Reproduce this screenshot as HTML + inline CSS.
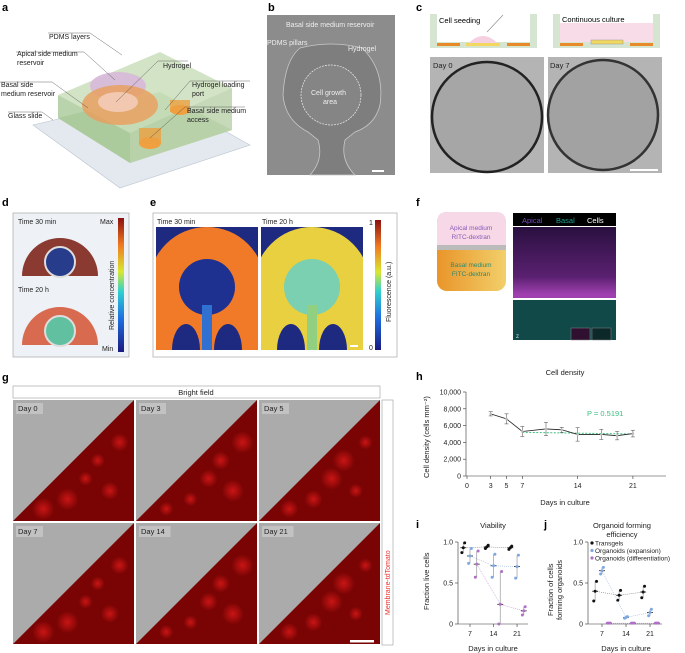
<!DOCTYPE html>
<html><head><meta charset="utf-8"><style>
html,body{margin:0;padding:0;background:#fff;}
svg{display:block;font-family:"Liberation Sans",sans-serif;}
.lbl{font-weight:bold;font-size:11px;}
.t{font-size:7px;fill:#222;}
.tw{font-size:7px;fill:#eee;}
</style></head><body>
<svg id="fig" width="685" height="653" viewBox="0 0 685 653">
<defs>
<linearGradient id="jet" x1="0" y1="1" x2="0" y2="0">
<stop offset="0" stop-color="#1a1a80"/><stop offset="0.25" stop-color="#1e6fe0"/><stop offset="0.45" stop-color="#30d0d0"/><stop offset="0.6" stop-color="#d8e830"/><stop offset="0.8" stop-color="#f07820"/><stop offset="1" stop-color="#8a1010"/>
</linearGradient>
<linearGradient id="basal" x1="0" y1="0" x2="1" y2="0"><stop offset="0" stop-color="#e9952a"/><stop offset="1" stop-color="#f2cf6a"/></linearGradient>
<linearGradient id="fimg" x1="0" y1="0" x2="0" y2="1"><stop offset="0" stop-color="#2a1040"/><stop offset="0.7" stop-color="#5a2070"/><stop offset="0.95" stop-color="#a040b0"/></linearGradient>
<radialGradient id="redspot"><stop offset="0" stop-color="#ff2020"/><stop offset="1" stop-color="#ff2020" stop-opacity="0"/></radialGradient>
<clipPath id="e1"><rect x="156" y="227" width="102" height="123"/></clipPath>
<clipPath id="e2"><rect x="261" y="227" width="102" height="123"/></clipPath>
</defs>

<!-- panel a -->
<g>
<text class="lbl" x="2" y="11">a</text>
<polygon points="33,125 160,95 250,145 120,188" fill="#e4e9ef" stroke="#b8c4cf" stroke-width="0.6"/>
<polygon points="58,118 160,92 232,130 130,163" fill="#b6d6a8" opacity="0.9"/>
<polygon points="58,95 160,52 232,88 130,133" fill="#c8dcb8" opacity="0.8"/>
<polygon points="58,95 58,118 130,163 130,133" fill="#a8c898" opacity="0.8"/>
<polygon points="130,133 232,88 232,130 130,163" fill="#b8d0a8" opacity="0.8"/>
<ellipse cx="118" cy="86" rx="28" ry="14" fill="#d7b8d8" opacity="0.9"/>
<ellipse cx="120" cy="105" rx="38" ry="20" fill="#e8a060" opacity="0.85"/>
<ellipse cx="118" cy="102" rx="20" ry="10" fill="#f2c8b0"/>
<ellipse cx="180" cy="110" rx="10" ry="5" fill="#f0a040"/>
<ellipse cx="150" cy="143" rx="11" ry="6" fill="#f0a040"/>
<rect x="170" y="100" width="20" height="12" fill="#eea040" opacity="0.8"/>
<rect x="139" y="128" width="22" height="16" fill="#eea040" opacity="0.8"/>
<g stroke="#444" stroke-width="0.4" fill="none">
<path d="M48,33 H90 L122,55"/><path d="M16,52 H84 L115,80"/><path d="M0,82 H52 L88,108"/><path d="M8,112 H42 L53,120"/><path d="M158,61 H188"/><path d="M158,61 L116,102"/><path d="M190,81 H250"/><path d="M190,81 L165,110"/><path d="M185,107 H245"/><path d="M185,107 L150,138"/>
</g>
<text class="t" x="49" y="39">PDMS layers</text>
<text class="t" x="17" y="56">Apical side medium</text><text class="t" x="17" y="65">reservoir</text>
<text class="t" x="1" y="87">Basal side</text><text class="t" x="1" y="96">medium reservoir</text>
<text class="t" x="8" y="118">Glass slide</text>
<text class="t" x="163" y="68">Hydrogel</text>
<text class="t" x="192" y="87">Hydrogel loading</text><text class="t" x="192" y="96">port</text>
<text class="t" x="187" y="113">Basal side medium</text><text class="t" x="187" y="122">access</text>
</g>

<!-- panel b -->
<g>
<text class="lbl" x="268" y="11">b</text>
<rect x="267" y="15" width="128" height="160" fill="#8c8c8c"/>
<path d="M300,48 Q331,40 362,48 Q385,70 380,105 Q375,125 355,132 L345,140 Q340,160 355,175 L310,175 Q324,160 318,140 L308,132 Q285,120 283,95 Q285,60 300,48 Z" fill="#7e7e7e" stroke="#c8c8c8" stroke-width="0.8"/>
<circle cx="331" cy="95" r="30" fill="#858585" stroke="#eee" stroke-width="0.7" stroke-dasharray="2,1"/>
<text class="tw" x="286" y="27">Basal side medium reservoir</text>
<text class="tw" x="267" y="45">PDMS pillars</text>
<text class="tw" x="348" y="51">Hydrogel</text>
<text class="tw" x="311" y="95">Cell growth</text><text class="tw" x="323" y="104">area</text>
<rect x="372" y="170" width="12" height="2" fill="#fff"/>
</g>

<!-- panel c -->
<g>
<text class="lbl" x="416" y="11">c</text>
<rect x="430" y="14" width="7" height="34" fill="#d6e4d2"/><rect x="530" y="14" width="7" height="34" fill="#d6e4d2"/>
<rect x="437" y="42" width="93" height="6" fill="#d6e4d2"/>
<rect x="437" y="43" width="23" height="3" fill="#e8892a"/><rect x="507" y="43" width="23" height="3" fill="#e8892a"/>
<path d="M466,46 Q483,26 500,46 Z" fill="#f5d0e0"/><rect x="466" y="43" width="34" height="3" fill="#f2d860"/>
<line x1="487" y1="32" x2="503" y2="15" stroke="#888" stroke-width="0.6"/>
<text x="439" y="23" style="font-size:7.5px">Cell seeding</text>
<rect x="553" y="14" width="7" height="34" fill="#d6e4d2"/><rect x="653" y="14" width="7" height="34" fill="#d6e4d2"/>
<rect x="560" y="23" width="93" height="20" fill="#f8dde8"/>
<rect x="560" y="42" width="93" height="6" fill="#d6e4d2"/>
<rect x="560" y="43" width="23" height="3" fill="#e8892a"/><rect x="630" y="43" width="23" height="3" fill="#e8892a"/>
<rect x="591" y="40" width="32" height="4" fill="#f2d860" stroke="#888" stroke-width="0.4"/>
<text x="562" y="22" style="font-size:7.5px">Continuous culture</text>
<rect x="430" y="57" width="114" height="116" fill="#b4b4b4"/>
<circle cx="487" cy="117" r="55" fill="#a6a6a6" stroke="#222" stroke-width="2.5"/>
<text class="t" x="433" y="68" style="font-size:7.5px">Day 0</text>
<rect x="548" y="57" width="114" height="116" fill="#b4b4b4"/>
<circle cx="603" cy="115" r="55" fill="#a2a2a2" stroke="#333" stroke-width="2.5"/>
<text class="t" x="550" y="68" style="font-size:7.5px">Day 7</text>
<rect x="630" y="169" width="28" height="2" fill="#fff"/>
</g>

<!-- panel d -->
<g>
<text class="lbl" x="2" y="206">d</text>
<rect x="13" y="213" width="116" height="144" fill="#eef2f6" stroke="#999" stroke-width="0.6"/>
<text class="t" x="18" y="224">Time 30 min</text><text class="t" x="18" y="292">Time 20 h</text>
<path d="M22,276 A37,37 0 0 1 98,276 Z" fill="#8a3a30"/>
<circle cx="60" cy="262" r="15" fill="#283c8c" stroke="#ddd" stroke-width="2"/>
<path d="M22,345 A37,37 0 0 1 98,345 Z" fill="#d86a50"/>
<circle cx="60" cy="331" r="15" fill="#60c0a0" stroke="#ddd" stroke-width="2"/>
<rect x="118" y="218" width="6" height="134" fill="url(#jet)"/>
<text class="t" x="100" y="224">Max</text><text class="t" x="102" y="351">Min</text>
<text class="t" transform="translate(114,330) rotate(-90)">Relative concentration</text>
</g>

<!-- panel e -->
<g>
<text class="lbl" x="150" y="206">e</text>
<rect x="153" y="213" width="244" height="144" fill="#fff" stroke="#999" stroke-width="0.6"/>
<text class="t" x="157" y="224">Time 30 min</text><text class="t" x="262" y="224">Time 20 h</text>
<g clip-path="url(#e1)">
<rect x="156" y="227" width="102" height="123" fill="#1e2a80"/>
<circle cx="207" cy="285" r="58" fill="#f07a28"/>
<rect x="156" y="285" width="102" height="65" fill="#f07a28"/>
<circle cx="207" cy="287" r="28" fill="#1e3090"/>
<ellipse cx="186" cy="350" rx="14" ry="26" fill="#1e2a80"/>
<ellipse cx="228" cy="350" rx="14" ry="26" fill="#1e2a80"/>
<rect x="202" y="305" width="10" height="45" fill="#3070d0"/>
</g>
<g clip-path="url(#e2)">
<rect x="261" y="227" width="102" height="123" fill="#1e2a80"/>
<circle cx="312" cy="285" r="58" fill="#e8d040"/>
<rect x="261" y="285" width="102" height="65" fill="#e8d040"/>
<circle cx="312" cy="287" r="28" fill="#7ad0b0"/>
<ellipse cx="291" cy="350" rx="14" ry="26" fill="#1e2a80"/>
<ellipse cx="333" cy="350" rx="14" ry="26" fill="#1e2a80"/>
<rect x="307" y="305" width="10" height="45" fill="#90d080"/>
</g>
<rect x="350" y="345" width="8" height="2" fill="#fff"/>
<rect x="375" y="220" width="6" height="130" fill="url(#jet)"/>
<text class="t" x="369" y="225">1</text><text class="t" x="369" y="350">0</text>
<text class="t" transform="translate(391,322) rotate(-90)">Fluorescence (a.u.)</text>
</g>

<!-- panel f -->
<g>
<text class="lbl" x="416" y="206">f</text>
<rect x="437" y="212" width="69" height="79" rx="10" fill="url(#basal)"/>
<path d="M447,212 H496 Q506,212 506,222 V245 H437 V222 Q437,212 447,212 Z" fill="#f6d8e6"/>
<rect x="437" y="245" width="69" height="5" fill="#bbb"/>
<text x="471" y="230" text-anchor="middle" style="font-size:6.5px;fill:#8a5ab8">Apical medium</text>
<text x="471" y="239" text-anchor="middle" style="font-size:6.5px;fill:#8a5ab8">RITC-dextran</text>
<text x="471" y="267" text-anchor="middle" style="font-size:6.5px;fill:#2a8a70">Basal medium</text>
<text x="471" y="276" text-anchor="middle" style="font-size:6.5px;fill:#2a8a70">FITC-dextran</text>
<rect x="513" y="213" width="103" height="13" fill="#000"/>
<text x="522" y="223" style="font-size:7.5px;fill:#7a4ac0">Apical</text>
<text x="556" y="223" style="font-size:7.5px;fill:#20a090">Basal</text>
<text x="587" y="223" style="font-size:7.5px;fill:#fff">Cells</text>
<rect x="513" y="227" width="103" height="71" fill="url(#fimg)"/>
<rect x="513" y="298" width="103" height="2" fill="#fff"/>
<rect x="513" y="300" width="103" height="40" fill="#114848"/>
<rect x="571" y="328" width="19" height="12" fill="#301030" stroke="#888" stroke-width="0.5"/>
<rect x="592" y="328" width="19" height="12" fill="#0c2828" stroke="#888" stroke-width="0.5"/>
<text x="516" y="338" style="font-size:6px;fill:#ddd">z</text>
</g>

<!-- panel g -->
<g id="pg">
<text class="lbl" x="2" y="381">g</text>
<rect x="13" y="386" width="367" height="12" fill="#fff" stroke="#888" stroke-width="0.5"/>
<text class="t" x="196" y="395" text-anchor="middle" style="font-size:7.5px">Bright field</text>
<rect x="382" y="400" width="11" height="245" fill="#fff" stroke="#888" stroke-width="0.5"/>
<text transform="translate(390,615) rotate(-90)" style="font-size:7px;fill:#f03030">Membrane-tdTomato</text>
</g>

<!-- chart h -->
<g id="ch">
<text class="lbl" x="416" y="380">h</text>
<text class="t" x="565" y="375" text-anchor="middle" style="font-size:7.5px">Cell density</text>
<text class="t" transform="translate(429,478) rotate(-90)" style="font-size:7.5px">Cell density (cells mm⁻²)</text>
<text class="t" x="565" y="505" text-anchor="middle" style="font-size:7.5px">Days in culture</text>
<text x="587" y="416" style="font-size:7.5px;fill:#3cc080">P = 0.5191</text>
</g>
<!-- chart i -->
<g id="ci">
<text class="lbl" x="416" y="528">i</text>
<text class="t" x="493" y="528" text-anchor="middle" style="font-size:7.5px">Viability</text>
<text class="t" transform="translate(429,610) rotate(-90)" style="font-size:7.5px">Fraction live cells</text>
<text class="t" x="493" y="651" text-anchor="middle" style="font-size:7.5px">Days in culture</text>
</g>
<!-- chart j -->
<g id="cj">
<text class="lbl" x="544" y="528">j</text>
<text class="t" x="622" y="528" text-anchor="middle" style="font-size:7.5px">Organoid  forming</text>
<text class="t" x="622" y="537" text-anchor="middle" style="font-size:7.5px">efficiency</text>
<text class="t" transform="translate(553,616) rotate(-90)" style="font-size:7.5px">Fraction of cells</text>
<text class="t" transform="translate(562,620) rotate(-90)" style="font-size:7.5px">forming organoids</text>
<text class="t" x="626" y="651" text-anchor="middle" style="font-size:7.5px">Days in culture</text>
</g>
</svg>
<script>
// ---- chart h data ----
const hDays = [3,5,7,10,12,14,17,19,21];
const hMean = [7400,6800,5300,5600,5500,4950,4950,4800,5050];
const hErr = [250,600,600,800,300,800,600,500,400];
const hTicksY = [0,2000,4000,6000,8000,10000];
const hTickLabelsY = ["0","2,000","4,000","6,000","8,000","10,000"];
const hTicksX = [0,3,5,7,14,21];
const hFit = [[7,5200],[21,5000]];
// ---- chart i data ----
const iDaysT = [5,12,19], iT = [0.93,0.94,0.93], iTe = [0.06,0.02,0.02];
const iDaysE = [7,14,21], iE = [0.83,0.71,0.70], iEe = [0.09,0.14,0.14];
const iDaysD = [9,16,23], iD = [0.73,0.24,0.16], iDe = [0.16,0.40,0.05];
const iTicksX = [7,14,21], iTicksY = [0,0.5,1.0], iTickLabelsY = ["0","0.5","1.0"];
// ---- chart j data ----
const jDaysT = [5,12,19], jT = [0.40,0.35,0.39], jTe = [0.12,0.06,0.07];
const jDaysE = [7,14,21], jE = [0.65,0.08,0.14], jEe = [0.04,0.01,0.04];
const jDaysD = [9,16,23], jD = [0.01,0.01,0.01], jDe = [0.0,0.0,0.0];
const jLegend = ["Transgels","Organoids (expansion)","Organoids (differentiation)"];

const NS="http://www.w3.org/2000/svg";
function mk(parent,tag,attrs,name,txt){const e=document.createElementNS(NS,tag);for(const k in attrs)e.setAttribute(k,attrs[k]);


if(txt!==undefined)e.textContent=txt;parent.appendChild(e);return e;}

// panel g tiles
const gLabels=["Day 0","Day 3","Day 5","Day 7","Day 14","Day 21"];
const spots=[[0.7,0.5],[0.8,0.75],[0.45,0.82],[0.6,0.65],[0.88,0.35],[0.25,0.9]];
const pg=document.getElementById('pg');
gLabels.forEach((lab,k)=>{const c=k%3,r=Math.floor(k/3);const x=13+c*123,y=400+r*123,w=121,h=121;
mk(pg,'rect',{x:x,y:y,width:w,height:h,fill:'#7a0404'},'fluorescence-tile');
spots.forEach((s,q)=>{mk(pg,'circle',{cx:x+s[0]*w,cy:y+s[1]*h,r:7+((k+q)%3)*2,fill:'url(#redspot)',opacity:0.6},'red-spot');});
mk(pg,'polygon',{points:`${x},${y} ${x+w},${y} ${x},${y+h}`,fill:'#ababab'},'brightfield-tile');
mk(pg,'rect',{x:x+3,y:y+3,width:lab.length*4.6+4,height:11,fill:'#ccc',opacity:0.7},'day-label-bg');
mk(pg,'text',{x:x+5,y:y+11,class:'t',style:'font-size:7.5px'},'day-label',lab);});
mk(pg,'rect',{x:350,y:640,width:24,height:2.5,fill:'#fff'},'scale-bar');

// chart h
const ch=document.getElementById('ch');
const xH=d=>467+d*7.9, yH=v=>476-v/10000*84;
mk(ch,'line',{x1:466,y1:yH(10000),x2:466,y2:476,stroke:'#333','stroke-width':0.6},'y-axis');
mk(ch,'line',{x1:466,y1:476,x2:666,y2:476,stroke:'#333','stroke-width':0.6},'x-axis');
hTicksY.forEach((t,k)=>{mk(ch,'line',{x1:463,y1:yH(t),x2:466,y2:yH(t),stroke:'#333','stroke-width':0.6},'y-tick');
mk(ch,'text',{x:461,y:yH(t)+2.5,'text-anchor':'end',class:'t'},'y-tick-label',hTickLabelsY[k]);});
hTicksX.forEach(t=>{mk(ch,'line',{x1:xH(t),y1:476,x2:xH(t),y2:479,stroke:'#333','stroke-width':0.6},'x-tick');
mk(ch,'text',{x:xH(t),y:488,'text-anchor':'middle',class:'t'},'x-tick-label',String(t));});
mk(ch,'line',{x1:xH(hFit[0][0]),y1:yH(hFit[0][1]),x2:xH(hFit[1][0]),y2:yH(hFit[1][1]),stroke:'#3cc080','stroke-width':1,'stroke-dasharray':'2,1.5'},'fit-line');
mk(ch,'polyline',{points:hDays.map((d,k)=>xH(d)+','+yH(hMean[k])).join(' '),fill:'none',stroke:'#222','stroke-width':0.8},'density-line');
hDays.forEach((d,k)=>{const x=xH(d);mk(ch,'line',{x1:x,y1:yH(hMean[k]-hErr[k]),x2:x,y2:yH(hMean[k]+hErr[k]),stroke:'#444','stroke-width':0.5},'error-bar');
[hMean[k]-hErr[k],hMean[k]+hErr[k]].forEach(v=>mk(ch,'line',{x1:x-2,y1:yH(v),x2:x+2,y2:yH(v),stroke:'#444','stroke-width':0.5},'error-cap'));
mk(ch,'circle',{cx:x,cy:yH(hMean[k]),r:1.3,fill:'#bbb'},'density-point');});

function smallChart(g,x0,xFn,series,axisEnd){
 const yF=v=>624-v*82;
 mk(g,'line',{x1:x0,y1:yF(1),x2:x0,y2:624,stroke:'#333','stroke-width':0.6},'y-axis');
 mk(g,'line',{x1:x0,y1:624,x2:axisEnd,y2:624,stroke:'#333','stroke-width':0.6},'x-axis');
 iTicksY.forEach((t,k)=>{mk(g,'line',{x1:x0-3,y1:yF(t),x2:x0,y2:yF(t),stroke:'#333','stroke-width':0.6},'y-tick');
 mk(g,'text',{x:x0-5,y:yF(t)+2.5,'text-anchor':'end',class:'t'},'y-tick-label',iTickLabelsY[k]);});
 iTicksX.forEach(t=>{mk(g,'line',{x1:xFn(t),y1:624,x2:xFn(t),y2:627,stroke:'#333','stroke-width':0.6},'x-tick');
 mk(g,'text',{x:xFn(t),y:636,'text-anchor':'middle',class:'t'},'x-tick-label',String(t));});
 series.forEach(s=>{
  mk(g,'polyline',{points:s.d.map((d,k)=>xFn(d)+','+yF(s.m[k])).join(' '),fill:'none',stroke:s.lc,'stroke-width':0.5,'stroke-dasharray':'1,1'},s.name+'-line');
  s.d.forEach((d,k)=>{const x=xFn(d);
   mk(g,'line',{x1:x,y1:yF(Math.max(0,s.m[k]-s.e[k])),x2:x,y2:yF(s.m[k]+s.e[k]),stroke:'#999','stroke-width':0.7},s.name+'-error');
   mk(g,'line',{x1:x-3,y1:yF(s.m[k]),x2:x+3,y2:yF(s.m[k]),stroke:'#222','stroke-width':0.8},s.name+'-mean');
   [-1,0,1].forEach(o=>mk(g,'circle',{cx:x+o*1.4,cy:yF(Math.max(0,s.m[k]+o*s.e[k])),r:1.5,fill:s.c},s.name+'-point'));});});
}
const xI=d=>470+(d-7)*3.36;
smallChart(document.getElementById('ci'),458,xI,[
 {d:iDaysT,m:iT,e:iTe,c:'#111',lc:'#666',name:'transgels'},
 {d:iDaysE,m:iE,e:iEe,c:'#80a8e0',lc:'#80a8e0',name:'expansion'},
 {d:iDaysD,m:iD,e:iDe,c:'#b070c8',lc:'#b070c8',name:'differentiation'}],528);
const xJ=d=>602+(d-7)*3.43;
const cj=document.getElementById('cj');
smallChart(cj,588,xJ,[
 {d:jDaysT,m:jT,e:jTe,c:'#111',lc:'#666',name:'transgels'},
 {d:jDaysE,m:jE,e:jEe,c:'#80a8e0',lc:'#80a8e0',name:'expansion'},
 {d:jDaysD,m:jD,e:jDe,c:'#b070c8',lc:'#b070c8',name:'differentiation'}],662);
const lc=['#111','#80a8e0','#b070c8'];
jLegend.forEach((l,k)=>{mk(cj,'circle',{cx:592,cy:543+k*7.5,r:1.6,fill:lc[k]},'legend-marker');
mk(cj,'text',{x:595,y:545.5+k*7.5,class:'t',style:'font-size:6.5px'},'legend-entry',l);});
</script>
</body></html>
